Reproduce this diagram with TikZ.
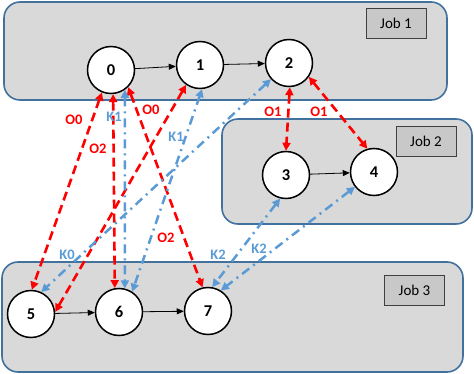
\documentclass[tikz,border=0pt]{standalone}
\usepackage{fontspec}
\setmainfont{Carlito}
\usetikzlibrary{arrows.meta}
\definecolor{boxfill}{HTML}{D9D9D9}
\definecolor{boxline}{HTML}{41719C}
\definecolor{lblfill}{HTML}{C8C8C8}
\definecolor{kblue}{HTML}{5B9BD5}
\definecolor{ored}{HTML}{FF0000}
\begin{document}
\begin{tikzpicture}[x=1pt,y=-1pt,
 jobbox/.style={draw=boxline, line width=1.6pt, fill=boxfill, rounded corners=16pt},
 joblabel/.style={draw=black!75, line width=0.8pt, fill=lblfill, minimum width=60pt, minimum height=30pt, font=\fontsize{15}{18}\selectfont, inner sep=0pt},
 task/.style={circle, draw=black, line width=1.5pt, fill=white, minimum size=47pt, inner sep=0pt, font=\fontsize{16.5}{18}\selectfont\bfseries},
 seq/.style={-{Triangle[length=7pt,width=6pt]}, line width=0.8pt, black},
 oedge/.style={{Triangle[length=8pt,width=8pt]}-{Triangle[length=8pt,width=8pt]}, draw=ored, line width=2.6pt, dash pattern=on 9pt off 5pt},
 kedge/.style={{Triangle[length=8pt,width=8pt]}-{Triangle[length=8pt,width=8pt]}, draw=kblue, line width=2.5pt, dash pattern=on 9pt off 5pt on 2pt off 5pt},
 olab/.style={text=ored, font=\fontsize{14.5}{16}\selectfont\bfseries, inner sep=0pt},
 klab/.style={text=kblue, font=\fontsize{14.5}{16}\selectfont\bfseries, inner sep=0pt}]
\useasboundingbox (0,0) rectangle (474,374);
% job boxes
\draw[jobbox] (4,2) rectangle (447,100);
\draw[jobbox] (222,119) rectangle (472,224);
\draw[jobbox] (2,262) rectangle (463,372);
\node[joblabel] (j1) at (396,23) {Job 1};
\node[joblabel] (j2) at (426,141) {Job 2};
\node[joblabel] (j3) at (414.5,290) {Job 3};
% tasks
\node[task] (n0) at (111,70) {0};
\node[task] (n1) at (200,65) {1};
\node[task] (n2) at (289,63) {2};
\node[task] (n3) at (286,175) {3};
\node[task] (n4) at (374,172) {4};
\node[task] (n5) at (31,314) {5};
\node[task] (n6) at (119,312) {6};
\node[task] (n7) at (208,311) {7};
% sequence arrows
\draw[seq] (n0) -- (n1);
\draw[seq] (n1) -- (n2);
\draw[seq] (n3) -- (n4);
\draw[seq] (n5) -- (n6);
\draw[seq] (n6) -- (n7);
% red edges
\draw[oedge] (n0.-112) -- (n5.88);
\draw[oedge] (n0.-85) -- (n6.100);
\draw[oedge] (n0.-45) -- (n7.103);
\draw[oedge] (n1.-125) -- (n5.5);
\draw[oedge] (n2.-88) -- (n3.90);
\draw[oedge] (n2.-35) -- (n4.106);
% blue edges
\draw[kedge] (n0.-55) -- (n6.76);
\draw[kedge] (n1.-85) -- (n6.57);
\draw[kedge] (n2.-138) -- (n5.65);
\draw[kedge] (n3.-104) -- (n7.80);
\draw[kedge] (n4.-142) -- (n7.58);
% labels
\node[olab] (l1) at (74,120) {O0};
\node[klab] (l2) at (114,117) {K1};
\node[olab] (l3) at (151,110) {O0};
\node[olab] (l4) at (98,149) {O2};
\node[klab] (l5) at (176,137) {K1};
\node[olab] (l6) at (273,112) {O1};
\node[olab] (l7) at (319,112) {O1};
\node[olab] (l8) at (166,238) {O2};
\node[klab] (l9) at (67,255) {K0};
\node[klab] (l10) at (218,255) {K2};
\node[klab] (l11) at (259,249) {K2};
\end{tikzpicture}
\end{document}
